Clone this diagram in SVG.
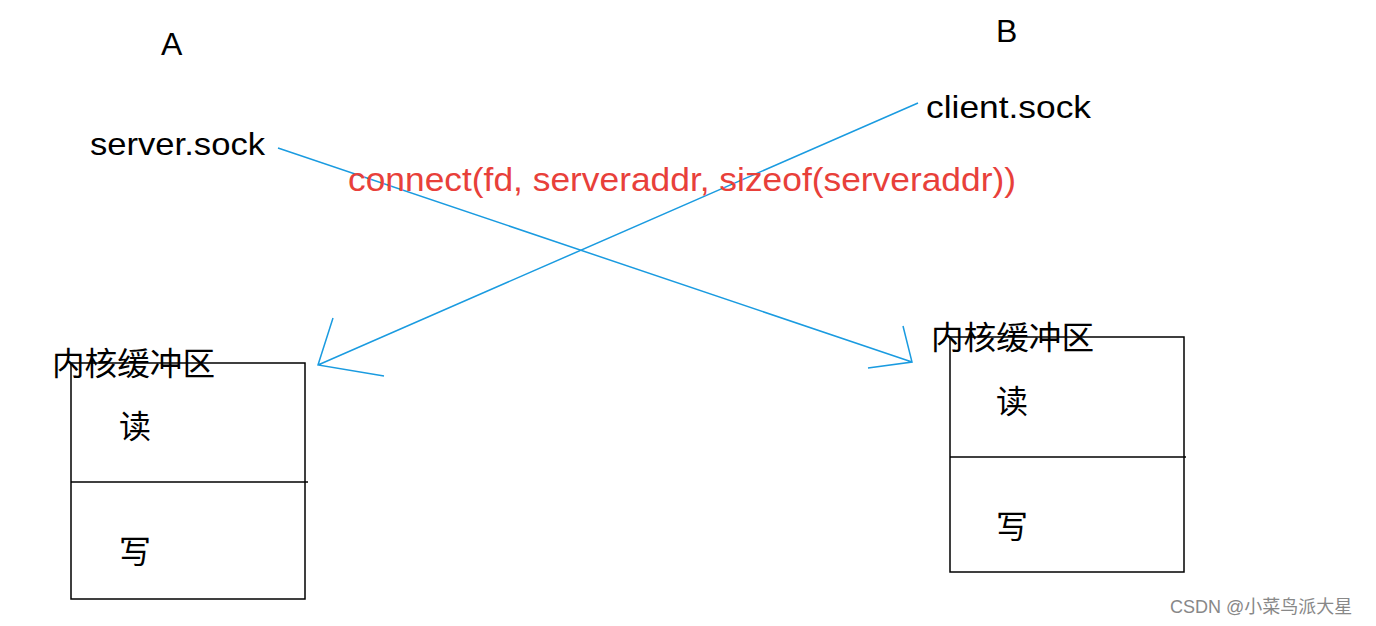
<svg xmlns="http://www.w3.org/2000/svg" width="1376" height="626" viewBox="0 0 1376 626">
<style>
text{font-family:"Liberation Sans","Noto Sans CJK SC",sans-serif;fill:#000}
.t{font-size:32px}
.c{font-size:32px;font-family:"Noto Sans CJK SC",sans-serif}
.r{font-size:33px;fill:#e8403a}
.ln{stroke:#1a9be0;stroke-width:1.5;fill:none}
.bx{stroke:#000;stroke-width:1.5;fill:none}
</style>
<rect width="1376" height="626" fill="#fff"/>
<g id="labelA"><text class="t" x="161" y="55">A</text></g>
<g id="labelB"><text class="t" x="996" y="42">B</text></g>
<g id="server"><text class="t" x="90" y="155" textLength="175" lengthAdjust="spacingAndGlyphs">server.sock</text></g>
<g id="client"><text class="t" x="926" y="118" textLength="165" lengthAdjust="spacingAndGlyphs">client.sock</text></g>
<g id="connectors">
<path class="ln" d="M278,148 L912,362 M868,368 L912,362 L903,326"/>
<path class="ln" d="M918,103 L318,365 M333,318 L318,365 L384,376"/>
<text class="r" x="348" y="191" textLength="668" lengthAdjust="spacingAndGlyphs">connect(fd, serveraddr, sizeof(serveraddr))</text>
</g>
<g id="bufA">
<text class="c" x="52" y="375" textLength="163" lengthAdjust="spacingAndGlyphs">内核缓冲区</text>
<rect class="bx" x="71" y="363" width="234" height="236"/>
<line class="bx" x1="71" y1="482" x2="308" y2="482"/>
<text class="c" x="119" y="438">读</text>
<text class="c" x="119" y="563">写</text>
</g>
<g id="bufB">
<text class="c" x="931" y="349" textLength="163" lengthAdjust="spacingAndGlyphs">内核缓冲区</text>
<rect class="bx" x="950" y="337" width="234" height="235"/>
<line class="bx" x1="950" y1="457" x2="1186" y2="457"/>
<text class="c" x="996" y="413">读</text>
<text class="c" x="996" y="538">写</text>
</g>
<text x="1170" y="613" style="font-size:18px;fill:#888">CSDN @小菜鸟派大星</text>
</svg>
